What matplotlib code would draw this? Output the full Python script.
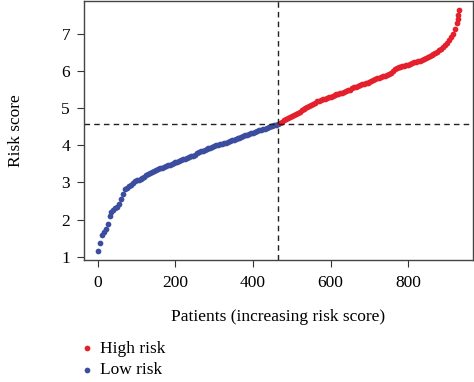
import matplotlib
matplotlib.use("Agg")
import matplotlib.pyplot as plt
import numpy as np

# risk score, one value every 5 patients (sorted ascending)
patients = [1] + list(range(5, 930, 5)) + [927, 929, 930]
scores = [
    1.15, 1.38, 1.58, 1.67, 1.76, 1.88, 2.10, 2.20, 2.27, 2.31,
    2.35, 2.42, 2.55, 2.70, 2.82, 2.86, 2.90, 2.94, 2.99, 3.03,
    3.06, 3.08, 3.10, 3.13, 3.16, 3.19, 3.23, 3.26, 3.28, 3.31,
    3.33, 3.36, 3.38, 3.40, 3.42, 3.44, 3.46, 3.48, 3.50, 3.52,
    3.54, 3.56, 3.58, 3.60, 3.62, 3.64, 3.66, 3.68, 3.70, 3.72,
    3.75, 3.78, 3.81, 3.84, 3.86, 3.88, 3.90, 3.92, 3.94, 3.96,
    3.98, 4.00, 4.01, 4.03, 4.04, 4.06, 4.07, 4.09, 4.11, 4.13,
    4.15, 4.17, 4.19, 4.21, 4.23, 4.25, 4.27, 4.29, 4.31, 4.33,
    4.34, 4.36, 4.38, 4.40, 4.42, 4.43, 4.45, 4.47, 4.49, 4.51,
    4.53, 4.55, 4.56, 4.58,
    4.61, 4.64, 4.67, 4.70, 4.73, 4.76, 4.79, 4.82, 4.85, 4.88,
    4.91, 4.94, 4.97, 5.00, 5.03, 5.06, 5.09, 5.12, 5.15, 5.18,
    5.20, 5.22, 5.24, 5.26, 5.28, 5.29, 5.31, 5.33, 5.35, 5.37,
    5.38, 5.40, 5.42, 5.44, 5.46, 5.48, 5.50, 5.53, 5.56, 5.58,
    5.60, 5.62, 5.64, 5.66, 5.68, 5.69, 5.71, 5.74, 5.76, 5.78,
    5.80, 5.82, 5.84, 5.86, 5.87, 5.89, 5.92, 5.95, 6.00, 6.05,
    6.08, 6.10, 6.11, 6.13, 6.14, 6.15, 6.17, 6.19, 6.21, 6.23,
    6.24, 6.26, 6.28, 6.30, 6.33, 6.35, 6.37, 6.40, 6.43, 6.46,
    6.49, 6.52, 6.56, 6.60, 6.64, 6.70, 6.76, 6.83, 6.91, 7.00,
    7.12, 7.28, 7.40, 7.50, 7.63,
]
cutoff_patient = 465
cutoff_score = 4.58
x_ticks = [0, 200, 400, 600, 800]
y_ticks = [1, 2, 3, 4, 5, 6, 7]

red = "#E3202B"
blue = "#3B4D9E"

plt.rcParams["font.family"] = ["Liberation Serif", "DejaVu Serif"]

x = np.array(patients)
y = np.array(scores)
low = x <= cutoff_patient

fig = plt.figure(figsize=(4.74, 3.82), dpi=100)
ax = fig.add_axes([0.177, 0.319, 0.821, 0.678])

ax.scatter(x[low], y[low], s=17, color=blue, linewidths=0, label="Low risk")
ax.scatter(x[~low], y[~low], s=17, color=red, linewidths=0, label="High risk")

ax.axvline(cutoff_patient, color="#222222", lw=1, ls=(0, (4, 3)))
ax.axhline(cutoff_score, color="#222222", lw=1, ls=(0, (4, 3)))

ax.set_xlim(-36, 967)
ax.set_ylim(0.91, 7.88)
ax.set_xticks(x_ticks)
ax.set_yticks(y_ticks)
ax.tick_params(labelsize=12.5, length=5, color="#333333", pad=5)
ax.tick_params(axis="x", pad=6)
for s in ax.spines.values():
    s.set_color("#444444")
    s.set_linewidth(1)

ax.set_xlabel("Patients (increasing risk score)", fontsize=12.5, labelpad=13)
ax.set_ylabel("Risk score", fontsize=12.5, labelpad=27)

h, l = ax.get_legend_handles_labels()
fig.legend(h[::-1], l[::-1], loc="upper left", bbox_to_anchor=(0.174, 0.108),
           bbox_transform=fig.transFigure, frameon=False, fontsize=12.5,
           borderpad=0, handlelength=0.5, handletextpad=0.5, labelspacing=0.3,
           borderaxespad=0)

fig.savefig("out.png", dpi=100)
